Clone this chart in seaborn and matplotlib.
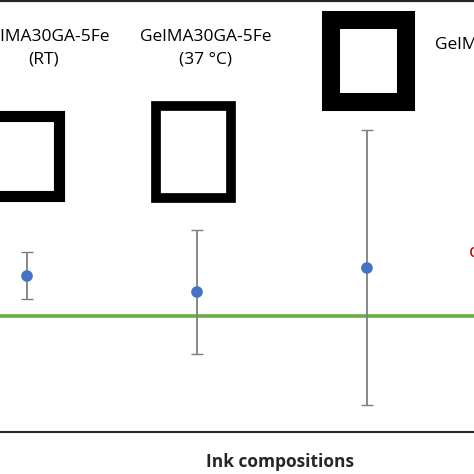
import matplotlib
matplotlib.use("Agg")
import matplotlib.pyplot as plt
import seaborn as sns
import pandas as pd
from matplotlib.patches import Rectangle

sns.set_style("white")
plt.rcParams['font.family'] = ['Open Sans', 'DejaVu Sans']

labels = ["GelMA30GA-5Fe\n(RT)", "GelMA30GA-5Fe\n(37 °C)", "GelMA30GA-5Fe"]
pos = [0, 1, 2]
means = [156, 140, 164]
lower = [133, 78, 27]
upper = [180, 202, 302]
reference = 116

df = pd.DataFrame({"x": pos, "y": means})

fig = plt.figure(figsize=(4.74, 4.74), dpi=100)
ax = fig.add_axes([0, 0.0886, 1, 0.9114])

ax.axhline(reference, color="#6aae45", lw=2.6, zorder=1)
ax.errorbar(pos, means,
            yerr=[[m - l for m, l in zip(means, lower)], [u - m for m, u in zip(means, upper)]],
            fmt="none", ecolor="#7f7f7f", elinewidth=1.3, capsize=4, zorder=2)
sns.scatterplot(data=df, x="x", y="y", ax=ax, color="#4472c4", s=70, edgecolor="none", zorder=3)

ax.set_xlim(-0.159, 2.63)
ax.set_ylim(0, 432)
ax.set_xticks([])
ax.set_yticks([])
ax.set_xlabel("")
ax.set_ylabel("")
for s in ["left", "right"]:
    ax.spines[s].set_visible(False)
ax.spines["top"].set_linewidth(3)
ax.spines["bottom"].set_linewidth(1.5)

# sample prints (photo stand-ins)
ax.add_patch(Rectangle((-0.17, 236), 0.36, 80, fill=False, lw=8, ec="black", zorder=1))
ax.add_patch(Rectangle((0.76, 234), 0.44, 92, fill=False, lw=7, ec="black", zorder=1))
ax.add_patch(Rectangle((1.79, 330), 0.44, 82, fill=False, lw=13, ec="black", zorder=1))

ax.text(0.1, 403, labels[0], ha="center", va="top", fontsize=12.5, linespacing=1.5, color="black")
ax.text(1.05, 403, labels[1], ha="center", va="top", fontsize=12.5, linespacing=1.5, color="black")
ax.text(2.4, 395, labels[2], ha="left", va="top", fontsize=12.5, color="black")
ax.text(2.6, 180, "α", color="#c00000", fontsize=14, ha="left", va="center")

fig.text(0.59, 0.026, "Ink compositions", ha="center", va="center", fontsize=12.5, fontweight="bold")
fig.savefig("out.png", dpi=100)
